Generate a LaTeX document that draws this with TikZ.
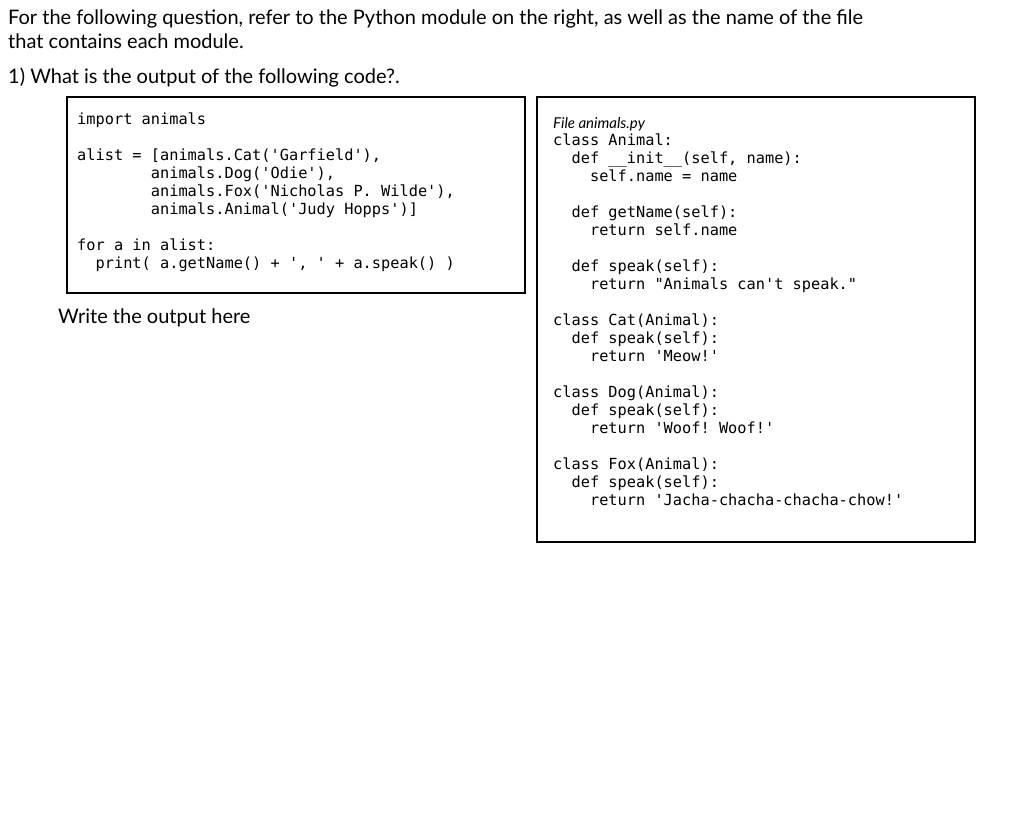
\documentclass[tikz,border=0pt]{standalone}
\usepackage{fontspec}
\setmainfont{Lato}
\setmonofont{DejaVu Sans Mono}
\begin{document}
\begin{tikzpicture}[x=1pt,y=-1pt,
  txt/.style={anchor=base west,inner sep=0pt,font=\fontsize{20}{24}\selectfont},
  code/.style={anchor=north west,inner sep=0pt,align=left,font=\fontsize{15.3}{18}\ttfamily},
  box/.style={draw,line width=1.3pt}]
\useasboundingbox (0,0) rectangle (1024,813);
\node[txt] (q1) at (8,25) {For the following question, refer to the Python module on the right, as well as the name of the file};
\node[txt] (q2) at (8,49) {that contains each module.};
\node[txt] (q3) at (8,84) {1) What is the output of the following code?.};
\draw[box] (67,97) rectangle (525,293);
\draw[box] (537,97) rectangle (975,542);
\node[code] (lc) at (77,113) {import animals\\[18pt]
alist = [animals.Cat('Garfield'),\\
\ \ \ \ \ \ \ \ animals.Dog('Odie'),\\
\ \ \ \ \ \ \ \ animals.Fox('Nicholas P. Wilde'),\\
\ \ \ \ \ \ \ \ animals.Animal('Judy Hopps')]\\[18pt]
for a in alist:\\
\ \ print( a.getName() + ', ' + a.speak() )};
\node[txt] (w) at (58,323) {Write the output here};
\node[anchor=base west,inner sep=0pt,font=\fontsize{15}{18}\selectfont\itshape] (fn) at (553,129) {File animals.py};
\node[code] (rc) at (553,134) {class Animal:\\
\ \ def \_\_init\_\_(self, name):\\
\ \ \ \ self.name = name\\[18pt]
\ \ def getName(self):\\
\ \ \ \ return self.name\\[18pt]
\ \ def speak(self):\\
\ \ \ \ return "Animals can't speak."\\[18pt]
class Cat(Animal):\\
\ \ def speak(self):\\
\ \ \ \ return 'Meow!'\\[18pt]
class Dog(Animal):\\
\ \ def speak(self):\\
\ \ \ \ return 'Woof! Woof!'\\[18pt]
class Fox(Animal):\\
\ \ def speak(self):\\
\ \ \ \ return 'Jacha-chacha-chacha-chow!'};
\end{tikzpicture}
\end{document}
